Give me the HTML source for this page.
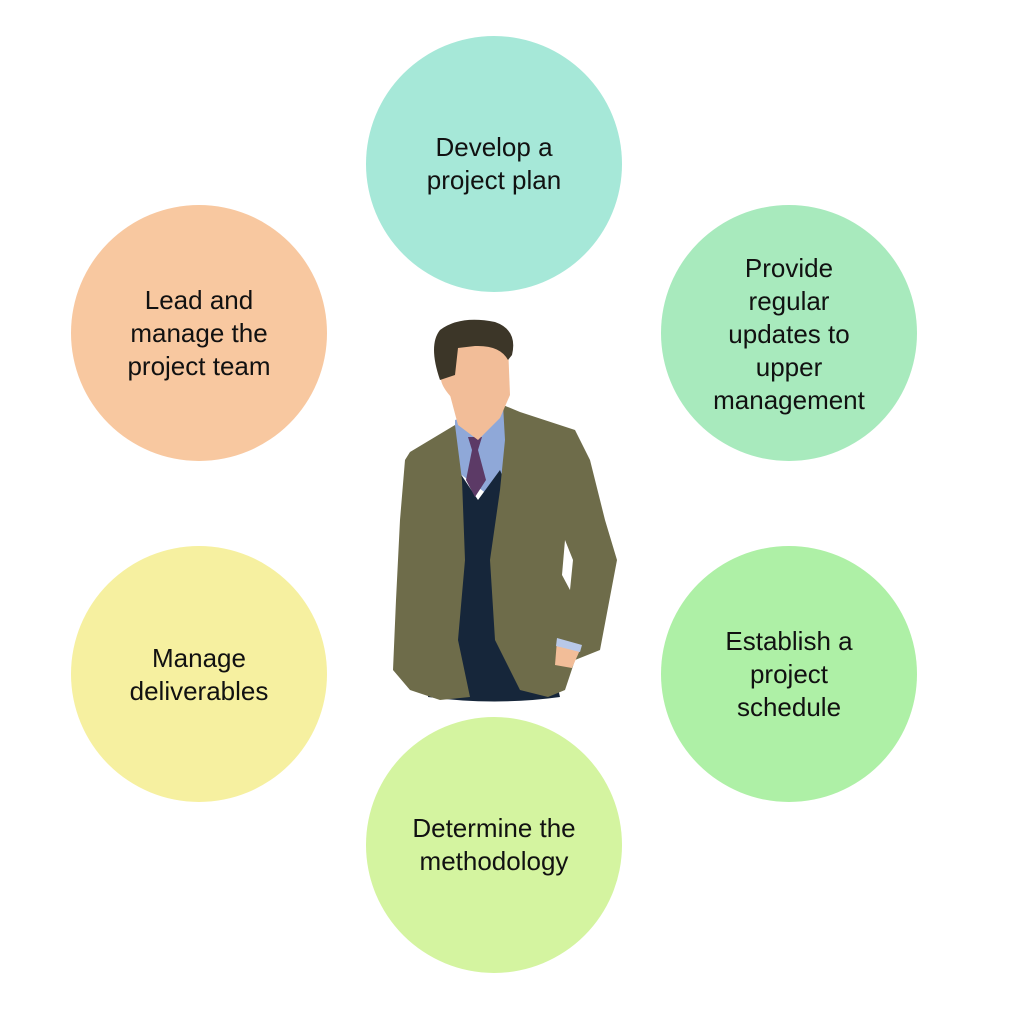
<!DOCTYPE html>
<html><head><meta charset="utf-8"><style>html,body{margin:0;padding:0;background:#fff}svg{display:block}</style></head>
<body>
<svg width="1020" height="1011" viewBox="0 0 1020 1011" xmlns="http://www.w3.org/2000/svg" font-family="Liberation Sans, sans-serif" font-size="26" fill="#111" text-anchor="middle">
<circle cx="494" cy="164" r="128" fill="#a6e8d8"/>
<circle cx="789" cy="333" r="128" fill="#a8eabd"/>
<circle cx="199" cy="333" r="128" fill="#f8c8a0"/>
<circle cx="199" cy="674" r="128" fill="#f6f0a0"/>
<circle cx="789" cy="674" r="128" fill="#aef0a6"/>
<circle cx="494" cy="845" r="128" fill="#d4f4a0"/>
<g fill="#111">
<text x="494" y="156">Develop a</text><text x="494" y="189">project plan</text>
<text x="789" y="277">Provide</text><text x="789" y="310">regular</text><text x="789" y="343">updates to</text><text x="789" y="376">upper</text><text x="789" y="409">management</text>
<text x="199" y="309">Lead and</text><text x="199" y="342">manage the</text><text x="199" y="375">project team</text>
<text x="199" y="667">Manage</text><text x="199" y="700">deliverables</text>
<text x="789" y="650">Establish a</text><text x="789" y="683">project</text><text x="789" y="716">schedule</text>
<text x="494" y="837">Determine the</text><text x="494" y="870">methodology</text>
</g>
<!-- person -->
<path d="M455 420 L503 405 L510 470 L495 500 L455 470 Z" fill="#8fa8d8"/>
<path d="M428 697 L440 520 L458 470 L478 500 L500 470 L520 520 L560 697 Q495 706 428 697 Z" fill="#16263a"/>
<path d="M410 452 L455 425 L462 480 L465 560 L458 640 L470 697 L440 700 L410 690 L393 670 L396 600 L400 520 L405 460 Z" fill="#6e6c4a"/>
<path d="M503 405 L520 412 L575 430 L590 460 L605 520 L617 560 L600 650 L575 660 L565 690 L548 697 L520 690 L495 640 L490 560 L500 490 L505 440 Z" fill="#6e6c4a"/>
<path d="M565 540 L573 560 L570 590 L562 575 Z" fill="#fff"/>
<path d="M557 640 L580 650 L572 668 L555 665 Z" fill="#f2bd98"/>
<path d="M557 638 L582 645 L580 652 L556 646 Z" fill="#b8c8e8"/>
<path d="M468 437 L482 437 L478 450 L486 480 L475 497 L466 480 L472 450 Z" fill="#5c3a66"/>
<path d="M455 345 L508 345 L510 395 L500 418 L478 440 L458 425 L450 395 Z" fill="#f2bd98"/>
<path d="M442 372 Q437 382 452 398 L458 395 L455 372 Z" fill="#f2bd98"/>
<path d="M440 380 Q428 345 440 330 Q460 315 495 322 Q518 330 512 355 L508 360 Q500 345 475 346 L458 348 L455 375 Z" fill="#3c3628"/>
</svg>
</body></html>
